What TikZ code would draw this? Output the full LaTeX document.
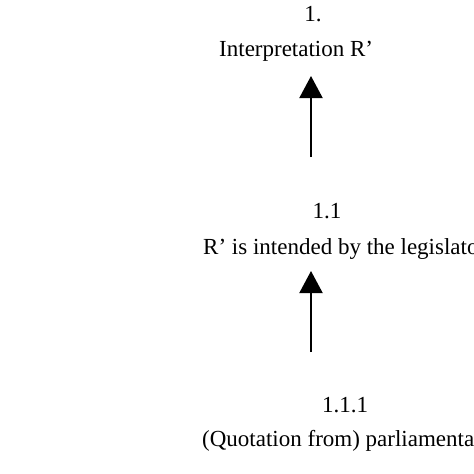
\documentclass[tikz,border=0pt]{standalone}
\usepackage{fontspec}
\setmainfont{Liberation Serif}
\usetikzlibrary{positioning}
\usetikzlibrary{arrows.meta}

\begin{document}
\begin{tikzpicture}[x=1pt, y=1pt,
    lbl/.style={inner sep=0pt, font=\fontsize{23}{27}\selectfont},
    uparrow/.style={line width=2pt, -{Triangle[width=23pt,length=22pt]}}]
    \useasboundingbox (0,0) rectangle (474,-474);
    \clip (0,0) rectangle (474,-474);
    % top step
    \node[lbl, anchor=base] (n1) at (313,-21) {1.};
    \node[lbl, anchor=base west] (interp) at (219,-56) {Interpretation R'};
    \coordinate (a1top) at (311,-76);
    \coordinate (a1bot) at (311,-157);
    \draw[uparrow] (a1bot) -- (a1top);
    % middle step
    \node[lbl, anchor=base] (n11) at (327,-218) {1.1};
    \node[lbl, anchor=base west] (intend) at (203,-254) {R' is intended by the legislator};
    \coordinate (a2top) at (311,-271);
    \coordinate (a2bot) at (311,-352);
    \draw[uparrow] (a2bot) -- (a2top);
    % bottom step
    \node[lbl, anchor=base] (n111) at (345,-412) {1.1.1};
    \node[lbl, anchor=base west] (quote) at (202,-446) {(Quotation from) parliamentary};
\end{tikzpicture}
\end{document}
